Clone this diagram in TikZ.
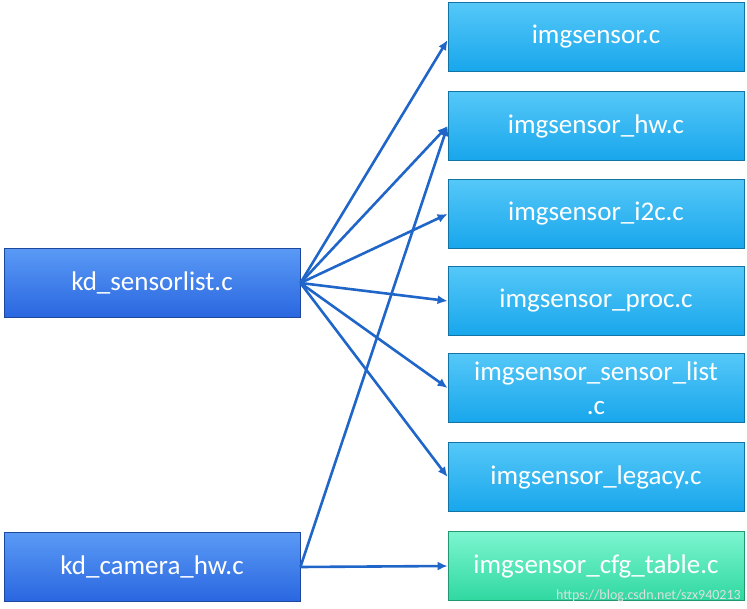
\documentclass[tikz,border=0pt]{standalone}
\usepackage{fontspec}
\setmainfont{Carlito}
\usetikzlibrary{arrows.meta}
\definecolor{ltop}{HTML}{5A9AF5}
\definecolor{lbot}{HTML}{2A66E0}
\definecolor{rtop}{HTML}{55C8F8}
\definecolor{rbot}{HTML}{18A6EC}
\definecolor{gtop}{HTML}{7CF5D0}
\definecolor{gbot}{HTML}{30D8A0}
\definecolor{arrc}{HTML}{1F66C8}
\begin{document}
\begin{tikzpicture}[x=1pt,y=-1pt,
  box/.style={draw=#1,line width=0.8pt,minimum width=296pt,minimum height=69pt,inner sep=2pt,text=white,font=\fontsize{27}{30}\selectfont,align=center,text width=292pt},
  lbox/.style={box=lbot!70!black,top color=ltop,bottom color=lbot},
  rbox/.style={box=rbot!70!black,top color=rtop,bottom color=rbot},
  gbox/.style={box=gbot!70!black,top color=gtop,bottom color=gbot},
  arr/.style={draw=arrc,line width=2.6pt,-{Latex[length=10pt,width=9pt]}}]
\useasboundingbox (0,0) rectangle (747,609);
\node[lbox] (s) at (152,283) {kd\_sensorlist.c};
\node[lbox] (h) at (152,567) {kd\_camera\_hw.c};
\node[rbox] (r1) at (596,37) {imgsensor.c};
\node[rbox] (r2) at (596,126) {imgsensor\_hw.c};
\node[rbox] (r3) at (596,214) {imgsensor\_i2c.c};
\node[rbox] (r4) at (596,301) {imgsensor\_proc.c};
\node[rbox,font=\fontsize{27}{34}\selectfont] (r5) at (596,388) {imgsensor\_sensor\_list\\.c};
\node[rbox] (r6) at (596,477) {imgsensor\_legacy.c};
\node[gbox] (r7) at (596,566) {imgsensor\_cfg\_table.c};
\node[text=gray!25,font=\fontsize{14}{15}\selectfont,anchor=south east,inner sep=1pt] (w) at (742,603) {https://blog.csdn.net/szx940213};
\coordinate (so) at (s.east);
\draw[arr] (so) -- (r1.west |- 0,40);
\draw[arr] (so) -- (r2.west);
\draw[arr] (so) -- (r3.west);
\draw[arr] (so) -- (r4.west);
\draw[arr] (so) -- (r5.west);
\draw[arr] (so) -- (r6.west);
\draw[arr] (h.east) -- (r2.west);
\draw[arr] (h.east) -- (r7.west);
\end{tikzpicture}
\end{document}
